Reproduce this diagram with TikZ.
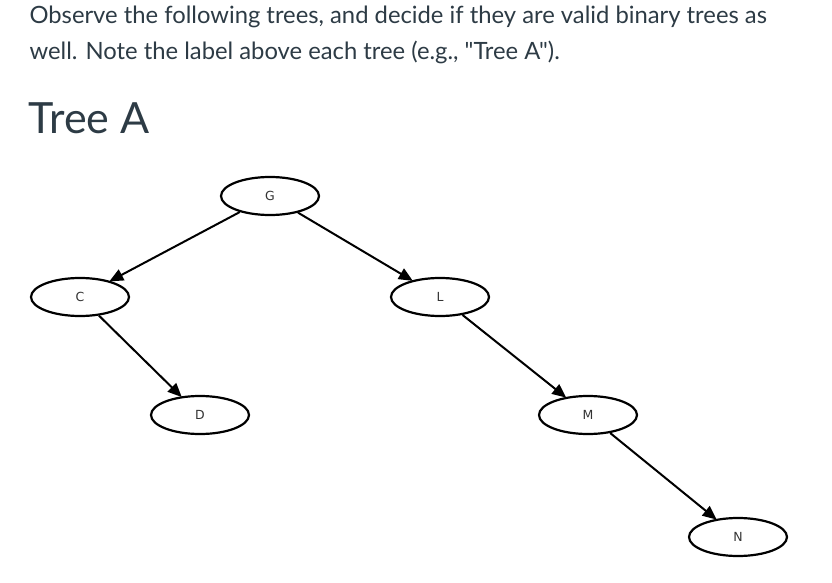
\documentclass[tikz,border=0pt]{standalone}
\usepackage{fontspec}
\newfontfamily\plainlato{Lato}
\newfontfamily\nodefont{DejaVu Sans}
\usetikzlibrary{shapes.geometric,arrows.meta}
\definecolor{txt}{HTML}{2D3B45}
\begin{document}
\begin{tikzpicture}[x=1pt,y=-1pt,
  tnode/.style={ellipse,draw=black,line width=2.2pt,minimum width=98pt,minimum height=38pt,inner sep=0pt,font=\nodefont\fontsize{12.5}{12.5}\selectfont,text=black!80},
  edge/.style={line width=2pt,-{Triangle[length=14pt,width=12pt]},shorten >=-1pt},
  para/.style={anchor=west,text=txt,font=\plainlato\fontsize{23.8}{26}\selectfont}]
\useasboundingbox (0,0) rectangle (832,583);
\node[para] (l1) at (26,17) {Observe the following trees, and decide if they are valid binary trees as};
\node[para] (l2) at (26,52) {well. Note the label above each tree (e.g., "Tree A").};
\node[anchor=west,text=txt,font=\plainlato\fontsize{43}{46}\selectfont] (t) at (25,118) {Tree A};
\node[tnode] (G) at (270,196) {G};
\node[tnode] (C) at (80,297) {C};
\node[tnode] (L) at (440,297) {L};
\node[tnode] (D) at (200,415) {D};
\node[tnode] (M) at (588,415) {M};
\node[tnode] (N) at (738,537) {N};
\draw[edge] (G) -- (C);
\draw[edge] (G) -- (L);
\draw[edge] (C) -- (D);
\draw[edge] (L) -- (M);
\draw[edge] (M) -- (N);
\end{tikzpicture}
\end{document}
